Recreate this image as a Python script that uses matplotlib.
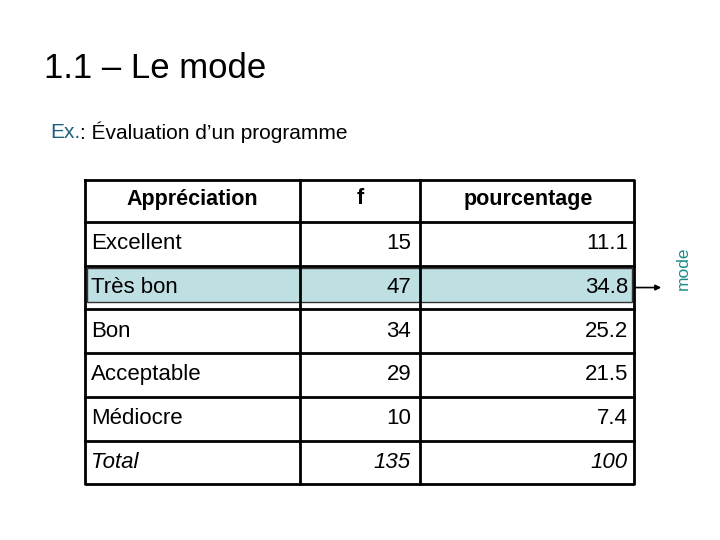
import matplotlib
matplotlib.use("Agg")
import matplotlib.pyplot as plt
from matplotlib.patches import Rectangle

plt.rcParams['font.family'] = ['Liberation Sans', 'DejaVu Sans']

headers = ["Appréciation", "f", "pourcentage"]
categories = ["Excellent", "Très bon", "Bon", "Acceptable", "Médiocre"]
freq = [15, 47, 34, 29, 10]
pct = ["11.1", "34.8", "25.2", "21.5", "7.4"]
total_label = "Total"
total_f = "135"
total_pct = "100"
mode_index = 1

fig = plt.figure(figsize=(7.2, 5.4), dpi=100)
ax = fig.add_axes([0, 0, 1, 1])
ax.set_xlim(0, 720); ax.set_ylim(540, 0); ax.axis('off')

ax.text(44, 68, "1.1 – Le mode", fontsize=25, va='center', ha='left')
ax.text(50, 132, "Ex.", fontsize=15, va='center', ha='left', color='#1f5f7b')
ax.text(80, 132, ": Évaluation d’un programme", fontsize=15, va='center', ha='left')

left, c1, c2, right = 85, 300, 420, 634
top, hbot = 180, 222
rowh = 43.7
nrows = len(categories) + 1
bottom = hbot + rowh * nrows

yh = hbot + rowh * mode_index
ax.add_patch(Rectangle((87, yh + 2), 545, 34, facecolor='#bfe0e3', edgecolor='#333333', lw=1, zorder=1))

lw = 2
ax.plot([left, right, right, left, left], [top, top, bottom, bottom, top], color='black', lw=lw, zorder=3)
for x in (c1, c2):
    ax.plot([x, x], [top, bottom], color='black', lw=lw, zorder=3)
for i in range(nrows):
    y = hbot + rowh * i
    ax.plot([left, right], [y, y], color='black', lw=lw, zorder=3)

ax.text(192, 199, headers[0], fontsize=15.5, fontweight='bold', ha='center', va='center', zorder=4)
ax.text(360, 199, headers[1], fontsize=15.5, fontweight='bold', ha='center', va='center', zorder=4)
ax.text(528, 199, headers[2], fontsize=15.5, fontweight='bold', ha='center', va='center', zorder=4)

rows = [(c, str(f), p, 'normal') for c, f, p in zip(categories, freq, pct)]
rows.append((total_label, total_f, total_pct, 'italic'))
for i, (c, f, p, st) in enumerate(rows):
    y = hbot + rowh * i + rowh / 2
    ax.text(91, y, c, fontsize=16, style=st, ha='left', va='center', zorder=4)
    ax.text(411, y, f, fontsize=16, style=st, ha='right', va='center', zorder=4)
    ax.text(628, y, p, fontsize=16, style=st, ha='right', va='center', zorder=4)

ym = hbot + rowh * mode_index + rowh / 2
ax.annotate("", xy=(664, ym), xytext=(632, ym),
            arrowprops=dict(arrowstyle='-|>', color='black', lw=1.2, mutation_scale=8))
ax.text(683, 268, "mode", rotation=90, fontsize=12.5, color='#1f8a8a', ha='center', va='center')

fig.savefig("out.png", dpi=100)
